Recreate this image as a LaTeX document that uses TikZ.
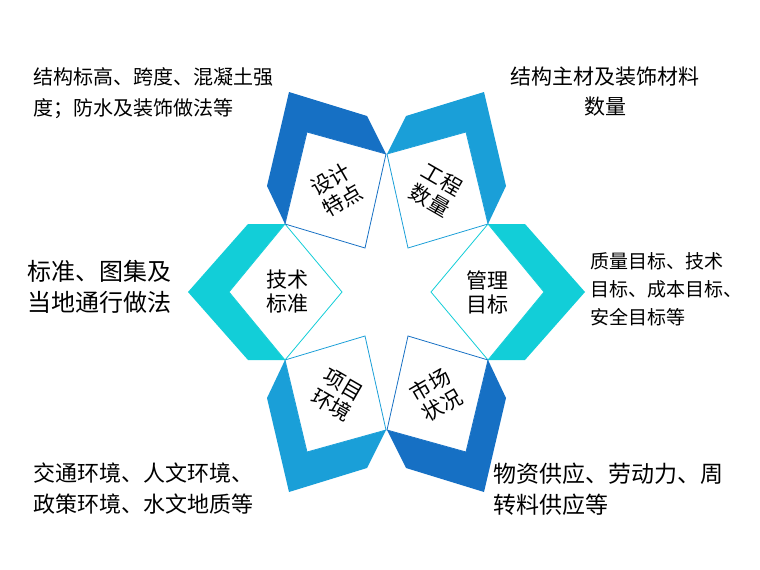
\documentclass[tikz,border=0pt]{standalone}
\usepackage{fontspec}
\setmainfont{Noto Sans CJK SC}
\definecolor{dblue}{HTML}{1670C4}
\definecolor{lblue}{HTML}{1A9FD8}
\definecolor{cyanc}{HTML}{12CED8}
\begin{document}
\begin{tikzpicture}[x=1pt,y=-1pt,
  petal/.style={draw=#1,line width=0.8pt,fill=white},
  lab/.style={font=\fontsize{21}{24}\selectfont,align=center,inner sep=0pt},
  desc/.style={font=\fontsize{20}{31}\selectfont,align=left,inner sep=0pt,anchor=north west}]
\useasboundingbox (0,0) rectangle (760,570);
% left / right
\fill[cyanc] (285,224)--(248,224)--(188,292)--(248,360)--(285,360)--(229,292)--cycle;
\draw[petal=cyanc] (285,224)--(342,292)--(285,360)--(229,292)--cycle;
\fill[cyanc] (488,224)--(525,224)--(585,292)--(525,360)--(488,360)--(544,292)--cycle;
\draw[petal=cyanc] (488,224)--(431,292)--(488,360)--(544,292)--cycle;
% top-left
\fill[dblue] (285,224)--(267,186)--(289,92)--(367,116)--(386,154)--(307,132)--cycle;
\draw[petal=dblue] (285,224)--(307,132)--(386,154)--(365,248)--cycle;
% top-right
\fill[lblue] (488,224)--(506,186)--(484,92)--(406,116)--(387,154)--(466,132)--cycle;
\draw[petal=lblue] (488,224)--(466,132)--(387,154)--(408,248)--cycle;
% bottom-left
\fill[lblue] (285,360)--(267,398)--(289,492)--(367,468)--(386,430)--(307,452)--cycle;
\draw[petal=lblue] (285,360)--(307,452)--(386,430)--(365,336)--cycle;
% bottom-right
\fill[dblue] (488,360)--(506,398)--(484,492)--(406,468)--(387,430)--(466,452)--cycle;
\draw[petal=dblue] (488,360)--(466,452)--(387,430)--(408,336)--cycle;
% labels
\node[lab,rotate=30] (a) at (337,190) {设计\\特点};
\node[lab,rotate=-30] (b) at (436,190) {工程\\数量};
\node[lab] (c) at (287,292) {技术\\标准};
\node[lab] (d) at (487,292) {管理\\目标};
\node[lab,rotate=-30] (e) at (337,395) {项目\\环境};
\node[lab,rotate=30] (f) at (436,395) {市场\\状况};
% descriptions
\node[desc] (ta) at (33,67) {结构标高、跨度、混凝土强\\度；防水及装饰做法等};
\node[desc,font=\fontsize{21}{30}\selectfont,align=center,anchor=north] (tb) at (605,67) {结构主材及装饰材料\\数量};
\node[desc,font=\fontsize{24}{31}\selectfont] (tc) at (27,260) {标准、图集及\\当地通行做法};
\node[desc,font=\fontsize{19}{28}\selectfont] (td) at (590,252) {质量目标、技术\\目标、成本目标、\\安全目标等};
\node[desc,font=\fontsize{22}{31}\selectfont] (te) at (33,463) {交通环境、人文环境、\\政策环境、水文地质等};
\node[desc,font=\fontsize{23}{31}\selectfont] (tf) at (493,463) {物资供应、劳动力、周\\转料供应等};
\end{tikzpicture}
\end{document}
